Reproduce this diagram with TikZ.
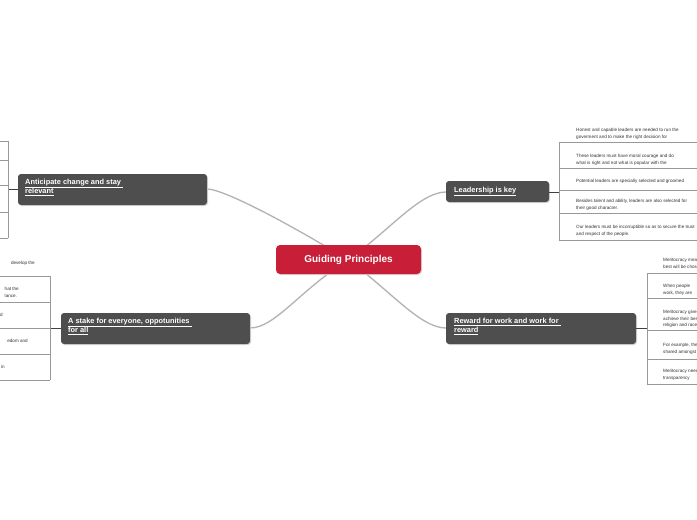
\documentclass[tikz,border=0pt]{standalone}
\usepackage{fontspec}
\setmainfont{Liberation Sans}
\definecolor{crim}{RGB}{200,30,55}
\definecolor{dk}{RGB}{78,78,78}
\begin{document}
\begin{tikzpicture}[x=1pt,y=-1pt,
 main/.style={draw=none,fill=crim,rounded corners=4pt,text=white,font=\bfseries\fontsize{10}{11}\selectfont,minimum width=145pt,minimum height=29pt},
 conn/.style={draw=black!30,line width=1.3pt},
 box/.style={draw=black!40,line width=0.4pt},
 brk/.style={draw=black!75,line width=0.8pt},
 tf/.style={font=\bfseries\fontsize{7.4}{9}\selectfont,text=white,align=left,inner sep=0pt},
 tx/.style={font=\fontsize{4.6}{6.5}\selectfont,align=left,inner sep=0pt,text=black!80}]
\clip (0,0) rectangle (697,520);
\fill[white] (0,0) rectangle (697,520);
% connectors
\coordinate (c) at (348,260);
\draw[conn] (c) .. controls (390,230) and (420,192) .. (446,192);
\draw[conn] (c) .. controls (390,290) and (420,328) .. (446,328);
\draw[conn] (c) .. controls (300,290) and (275,328) .. (250,328);
\draw[conn] (c) .. controls (300,230) and (225,189) .. (207,189);
\fill[black!15,rounded corners=4pt] (277,246) rectangle (422,275);
\node[main] (m) at (348.5,259.5) {Guiding Principles};
% topics
\fill[black!15,rounded corners=3pt] (447,182) rectangle (550,203);
\fill[dk,rounded corners=3pt] (446,181) rectangle (549,202);
\node[tf,anchor=west] (l) at (454,191.5) {\underline{Leadership is key}};
\fill[black!15,rounded corners=3pt] (447,314) rectangle (637,345);
\fill[dk,rounded corners=3pt] (446,313) rectangle (636,344);
\node[tf,anchor=north west] (r) at (454,318) {\underline{Reward for work and work for }\\\underline{reward}};
\fill[black!15,rounded corners=3pt] (62,314) rectangle (251,345);
\fill[dk,rounded corners=3pt] (61,313) rectangle (250,344);
\node[tf,anchor=north west] (s) at (68,318) {\underline{A stake for everyone, oppotunities }\\\underline{for all}};
\fill[black!15,rounded corners=3pt] (19,175) rectangle (208,206);
\fill[dk,rounded corners=3pt] (18,174) rectangle (207,205);
\node[tf,anchor=north west] (a) at (25,179) {\underline{Anticipate change and stay }\\\underline{relevant}};
% Leadership sub
\draw[brk] (549,192) -- (559,192);
\draw[box] (559,142) -- (697,142) (559,168) -- (697,168) (559,190) -- (697,190) (559,213) -- (697,213) (559,240) -- (697,240) (559,142) -- (559,240);
\node[tx,anchor=north west] at (576,128) {Honest and capable leaders are needed to run the\\goverment and to make the right decision for};
\node[tx,anchor=north west] at (576,154) {These leaders must have moral courage and do\\what is right and not what is popular with the};
\node[tx,anchor=north west] at (576,179) {Potential leaders are specially selected and groomed};
\node[tx,anchor=north west] at (576,199) {Besides talent and ability, leaders are also selected for\\their good character.};
\node[tx,anchor=north west] at (576,225) {Our leaders must be incorruptible so as to secure the trust\\and respect of the people.};
% Reward sub
\draw[brk] (636,328) -- (647,328);
\draw[box] (647,273) -- (697,273) (647,298) -- (697,298) (647,330) -- (697,330) (647,359) -- (697,359) (647,384) -- (697,384) (647,273) -- (647,384);
\node[tx,anchor=north west] at (663,258) {Meritocracy means\\best will be chosen};
\node[tx,anchor=north west] at (663,284) {When people\\work, they are};
\node[tx,anchor=north west] at (663,310) {Meritocracy gives\\achieve their best\\religion and race};
\node[tx,anchor=north west] at (663,343) {For example, the\\shared amongst all};
\node[tx,anchor=north west] at (663,369) {Meritocracy needs\\transparency};
% Stake sub
\draw[brk] (50,328) -- (61,328);
\draw[box] (0,276) -- (50,276) (0,302) -- (50,302) (0,328) -- (50,328) (0,354) -- (50,354) (0,380) -- (50,380) (50,276) -- (50,380);
\node[tx,anchor=north east] at (35,261) {develop the};
\node[tx,anchor=north east] at (19,287) {hat the\\lance.};
\node[tx,anchor=north east] at (3,313) {d};
\node[tx,anchor=north east] at (28,339) {edom and};
\node[tx,anchor=north east] at (5,365) {in};
% Anticipate sub
\draw[brk] (8,189) -- (18,189);
\draw[box] (0,141) -- (8,141) (0,160) -- (8,160) (0,185) -- (8,185) (0,212) -- (8,212) (0,238) -- (8,238) (8,141) -- (8,238);
\end{tikzpicture}
\end{document}
